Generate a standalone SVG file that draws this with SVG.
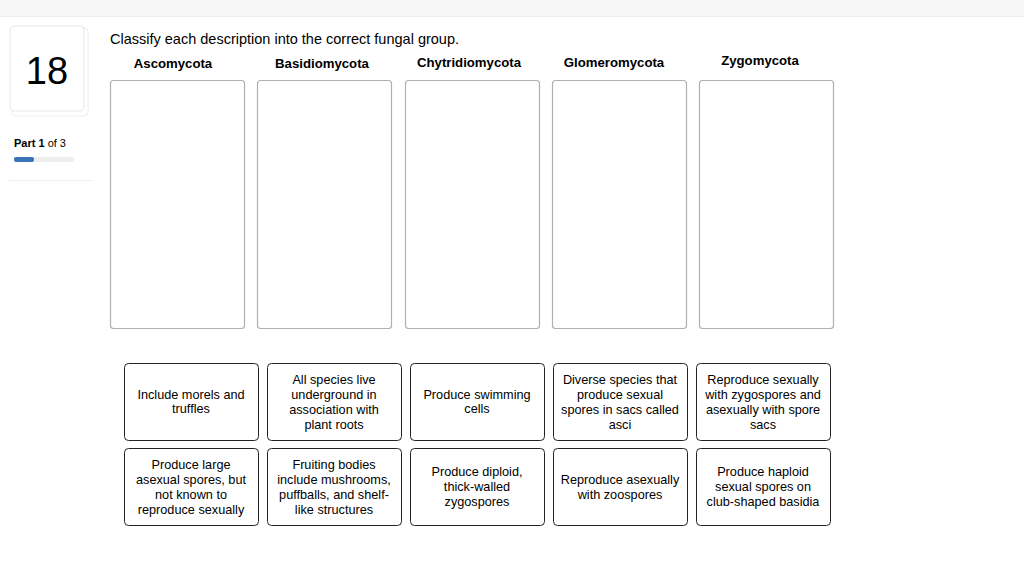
<svg xmlns="http://www.w3.org/2000/svg" width="1024" height="561" viewBox="0 0 1024 561">
<style>
text{font-family:"Liberation Sans",Arial,sans-serif;fill:#000}
.h{font-size:13.2px;font-weight:bold;text-anchor:middle}
.c{font-size:12.7px;text-anchor:middle}
.col{fill:#fff;stroke:#b0b0b0;stroke-width:1.2}
.card{fill:#fff;stroke:#222;stroke-width:1}
</style>
<rect x="0" y="0" width="1024" height="17" fill="#f7f7f7"/>
<rect x="0" y="16" width="1024" height="1" fill="#eee"/>
<rect x="12" y="28" width="76" height="88" rx="4" fill="#fff" stroke="#eee"/>
<rect x="10" y="26" width="74" height="85" rx="4" fill="#fff" stroke="#e6e6e6"/>
<text x="47" y="84" font-size="38" text-anchor="middle" fill="#222">18</text>
<text x="14" y="147" font-size="11" fill="#3a73b8"><tspan font-weight="bold">Part 1</tspan> of 3</text>
<rect x="14" y="157" width="60" height="5" rx="2" fill="#eee"/>
<rect x="14" y="157" width="20" height="5" rx="2" fill="#3a73b8"/>
<rect x="9" y="180" width="83" height="1" fill="#eee"/>
<text x="110" y="44" font-size="14.5" fill="#222">Classify each description into the correct fungal group.</text>
<g id="columns">
<g id="ascomycota"><text class="h" x="173" y="68">Ascomycota</text><rect class="col" x="110.5" y="80.5" width="134" height="248" rx="3"/></g>
<g id="basidiomycota"><text class="h" x="322" y="68">Basidiomycota</text><rect class="col" x="257.5" y="80.5" width="134" height="248" rx="3"/></g>
<g id="chytridiomycota"><text class="h" x="469" y="67">Chytridiomycota</text><rect class="col" x="405.5" y="80.5" width="134" height="248" rx="3"/></g>
<g id="glomeromycota"><text class="h" x="614" y="67">Glomeromycota</text><rect class="col" x="552.5" y="80.5" width="134" height="248" rx="3"/></g>
<g id="zygomycota"><text class="h" x="760" y="65">Zygomycota</text><rect class="col" x="699.5" y="80.5" width="134" height="248" rx="3"/></g>
</g>
<g id="connectors"></g>
<g id="cards">
<g id="c1"><rect class="card" x="124.5" y="363.5" width="134" height="77" rx="4"/><text class="c" x="191" y="399">Include morels and</text><text class="c" x="191" y="413">truffles</text></g>
<g id="c2"><rect class="card" x="267.5" y="363.5" width="134" height="77" rx="4"/><text class="c" x="334" y="384">All species live</text><text class="c" x="334" y="399">underground in</text><text class="c" x="334" y="414">association with</text><text class="c" x="334" y="429">plant roots</text></g>
<g id="c3"><rect class="card" x="410.5" y="363.5" width="134" height="77" rx="4"/><text class="c" x="477" y="399">Produce swimming</text><text class="c" x="477" y="413">cells</text></g>
<g id="c4"><rect class="card" x="553.5" y="363.5" width="134" height="77" rx="4"/><text class="c" x="620" y="384">Diverse species that</text><text class="c" x="620" y="399">produce sexual</text><text class="c" x="620" y="414">spores in sacs called</text><text class="c" x="620" y="429">asci</text></g>
<g id="c5"><rect class="card" x="696.5" y="363.5" width="134" height="77" rx="4"/><text class="c" x="763" y="384">Reproduce sexually</text><text class="c" x="763" y="399">with zygospores and</text><text class="c" x="763" y="414">asexually with spore</text><text class="c" x="763" y="429">sacs</text></g>
<g id="c6"><rect class="card" x="124.5" y="448.5" width="134" height="77" rx="4"/><text class="c" x="191" y="469">Produce large</text><text class="c" x="191" y="484">asexual spores, but</text><text class="c" x="191" y="499">not known to</text><text class="c" x="191" y="514">reproduce sexually</text></g>
<g id="c7"><rect class="card" x="267.5" y="448.5" width="134" height="77" rx="4"/><text class="c" x="334" y="469">Fruiting bodies</text><text class="c" x="334" y="484">include mushrooms,</text><text class="c" x="334" y="499">puffballs, and shelf-</text><text class="c" x="334" y="514">like structures</text></g>
<g id="c8"><rect class="card" x="410.5" y="448.5" width="134" height="77" rx="4"/><text class="c" x="477" y="476">Produce diploid,</text><text class="c" x="477" y="491">thick-walled</text><text class="c" x="477" y="506">zygospores</text></g>
<g id="c9"><rect class="card" x="553.5" y="448.5" width="134" height="77" rx="4"/><text class="c" x="620" y="484">Reproduce asexually</text><text class="c" x="620" y="499">with zoospores</text></g>
<g id="c10"><rect class="card" x="696.5" y="448.5" width="134" height="77" rx="4"/><text class="c" x="763" y="476">Produce haploid</text><text class="c" x="763" y="491">sexual spores on</text><text class="c" x="763" y="506">club-shaped basidia</text></g>
</g>
</svg>
